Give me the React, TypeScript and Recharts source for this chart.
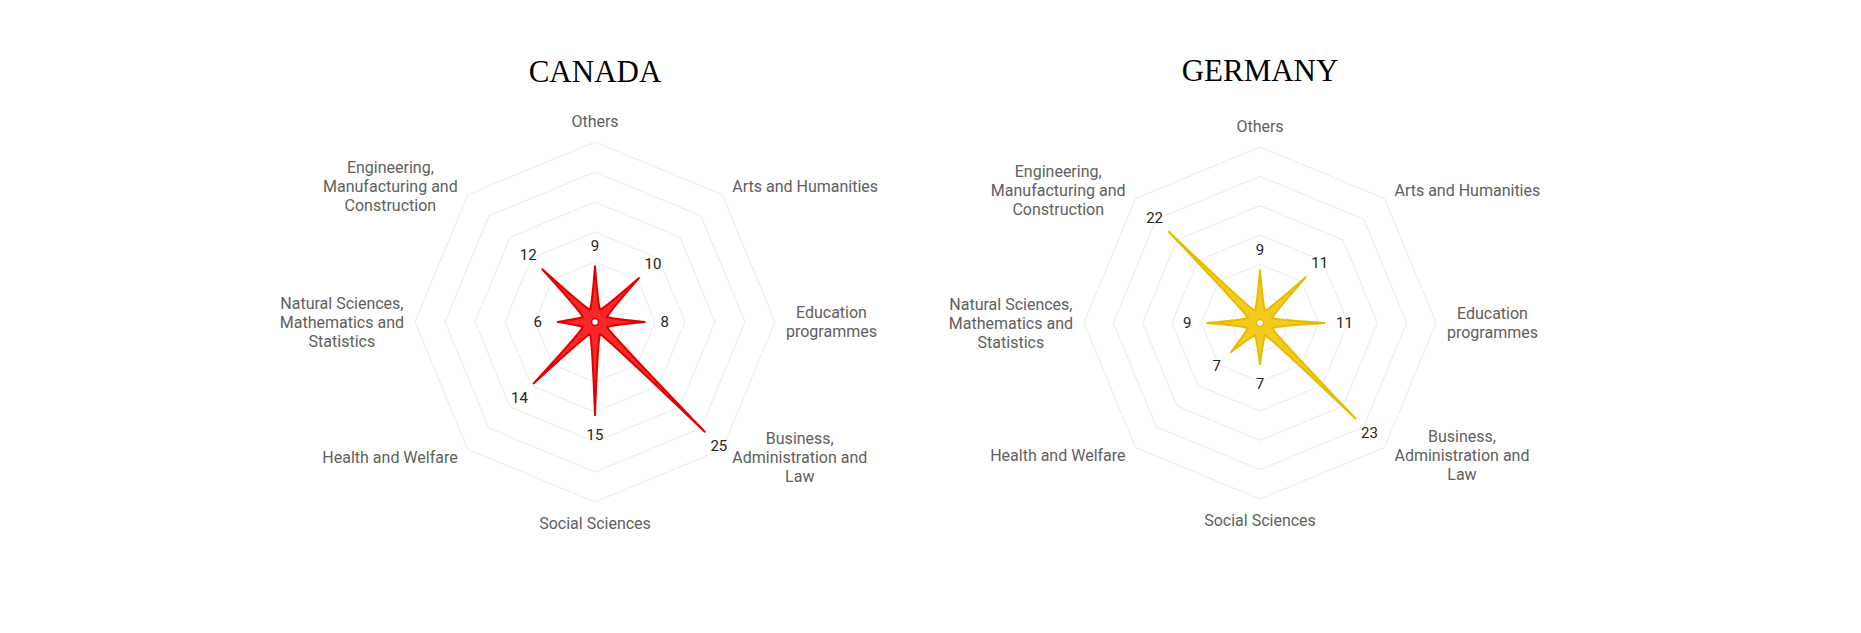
import { RadarChart, Radar, PolarGrid, PolarAngleAxis, PolarRadiusAxis } from 'recharts';

// categories clockwise from the top; "\n" marks the line breaks of the labels
const categories = [
  'Others',
  'Arts and Humanities',
  'Education\nprogrammes',
  'Business,\nAdministration and\nLaw',
  'Social Sciences',
  'Health and Welfare',
  'Natural Sciences,\nMathematics and\nStatistics',
  'Engineering,\nManufacturing and\nConstruction',
];
const canadaValues = [9, 10, 8, 25, 15, 14, 6, 12];
const germanyValues = [9, 11, 11, 23, 7, 7, 9, 22];

const W = 760;
const H = 520;
const CX = 380;
const CY = 260;

let ctx: CanvasRenderingContext2D | null = null;
function textWidth(s: string, font: string) {
  if (!ctx) ctx = document.createElement('canvas').getContext('2d');
  if (!ctx) return s.length * 8;
  ctx.font = font;
  return ctx.measureText(s).width;
}

const makeTick = (R: number) => (props: any) => {
  const { payload } = props;
  const rad = (payload.coordinate * Math.PI) / 180;
  const cos = Math.cos(rad);
  const sin = Math.sin(rad);
  const lines = String(payload.value).split('\n');
  const w = Math.max(...lines.map((l) => textWidth(l, '16px Roboto')));
  let x: number;
  let y: number;
  if (Math.abs(cos) < 0.01) {
    x = CX;
    y = CY - Math.sign(sin) * (R + 21);
  } else if (Math.abs(sin) < 0.01) {
    x = CX + Math.sign(cos) * (R + 11 + w / 2);
    y = CY;
  } else {
    x = CX + Math.sign(cos) * (R * 0.7071 + 10 + w / 2);
    y = CY - Math.sign(sin) * (R * 0.7071 + 8);
  }
  const lh = 19;
  const y0 = y - ((lines.length - 1) * lh) / 2;
  return (
    <text textAnchor="middle" fontFamily="Roboto" fontSize={16} fill="#606060">
      {lines.map((l, i) => (
        <tspan key={i} x={x} y={y0 + i * lh} dy="0.35em">
          {l}
        </tspan>
      ))}
    </text>
  );
};

const polar = (cx: number, cy: number, r: number, deg: number) => {
  const a = (deg * Math.PI) / 180;
  return [cx + r * Math.cos(a), cy - r * Math.sin(a)];
};

// star: each value is a needle, sides curve in toward the centre
const makeStar = (fill: string, edge: string) => (props: any) => {
  const pts = props.points || [];
  const n = pts.length;
  const step = 360 / n;
  const rIn = 13;
  const rC = 20;
  const off = step / 2 * 0.35;
  let d = '';
  const labels: any[] = [];
  pts.forEach((p: any, i: number) => {
    const cx = p.cx ?? CX;
    const cy = p.cy ?? CY;
    const a = p.angle ?? 90 - i * step;
    const [pix, piy] = polar(cx, cy, rIn, a + step / 2);
    const [pcx, pcy] = polar(cx, cy, rC, a + off);
    const [ncx, ncy] = polar(cx, cy, rC, a - off);
    const [nix, niy] = polar(cx, cy, rIn, a - step / 2);
    if (i === 0) d += `M${pix},${piy}`;
    d += `Q${pcx},${pcy} ${p.x},${p.y}Q${ncx},${ncy} ${nix},${niy}`;
    const [lx, ly] = polar(cx, cy, Math.hypot(p.x - cx, p.y - cy) + 20, a);
    labels.push(
      <text key={i} x={lx} y={ly} dy="0.35em" textAnchor="middle" fontFamily="Roboto" fontSize={15} fill="#252423">
        {p.value}
      </text>
    );
  });
  d += 'Z';
  const c0 = pts[0] || {};
  return (
    <g>
      <path d={d} fill={fill} fillOpacity={0.95} stroke={edge} strokeWidth={2} strokeLinejoin="round" />
      <circle cx={c0.cx ?? CX} cy={c0.cy ?? CY} r={3.5} fill="#fff" stroke={edge} strokeWidth={1.5} />
      {labels}
    </g>
  );
};

function CountryRadar({ values, R, max, fill, edge, left, top }: any) {
  const data = categories.map((name, i) => ({ name, value: values[i] }));
  const rings = [1, 2, 3, 4, 5, 6].map((k) => (R * k) / 6);
  return (
    <div style={{ position: 'absolute', left, top, width: W, height: H }}>
      <RadarChart width={W} height={H} cx={CX} cy={CY} outerRadius={R} data={data}>
        <PolarGrid radialLines={false} polarRadius={rings} stroke="#ebebeb" />
        <PolarAngleAxis dataKey="name" tick={makeTick(R)} tickLine={false} axisLine={false} />
        <PolarRadiusAxis type="number" domain={[0, max]} tick={false} axisLine={false} />
        <Radar dataKey="value" shape={makeStar(fill, edge)} isAnimationActive={false} />
      </RadarChart>
    </div>
  );
}

export default function App() {
  return (
    <div style={{ position: 'relative', width: 1861, height: 633, background: '#fff' }}>
      <style>{'body{margin:0}'}</style>
      <svg width={1861} height={633} style={{ position: 'absolute', left: 0, top: 0 }}>
        <text x={595} y={82} textAnchor="middle" fontFamily="Liberation Serif" fontSize={31} fill="#000">
          CANADA
        </text>
        <text x={1260} y={81} textAnchor="middle" fontFamily="Liberation Serif" fontSize={31} fill="#000">
          GERMANY
        </text>
      </svg>
      <CountryRadar values={canadaValues} R={180} max={29} fill="#f51c1c" edge="#e00000" left={215} top={62} />
      <CountryRadar values={germanyValues} R={176} max={30} fill="#f2c811" edge="#e6bb00" left={880} top={63} />
    </div>
  );
}
